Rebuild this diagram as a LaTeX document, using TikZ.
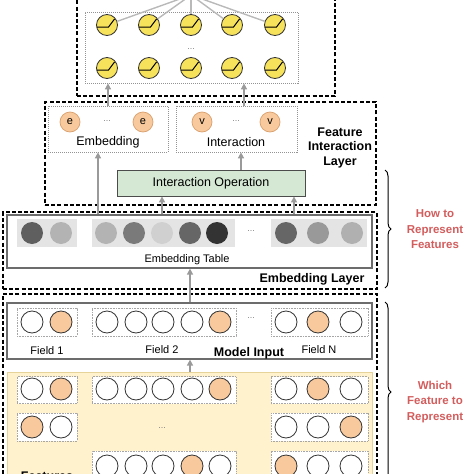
\documentclass[tikz,border=0pt]{standalone}
\usepackage{fontspec}
\setmainfont{Liberation Sans}
\usetikzlibrary{arrows.meta,decorations.pathreplacing,calc}
\definecolor{orangeF}{HTML}{F8C99C}
\definecolor{orangeD}{HTML}{D9A06E}
\definecolor{yellowF}{HTML}{F7E25C}
\definecolor{greenF}{HTML}{D5E8D4}
\definecolor{featF}{HTML}{FFF2CC}
\definecolor{featD}{HTML}{E6D39A}
\definecolor{redT}{HTML}{D35D5D}
\definecolor{arrG}{HTML}{9A9A9A}
\definecolor{panelG}{HTML}{E4E4E4}
\begin{document}
\begin{tikzpicture}[x=1pt,y=-1pt,
  layer/.style={draw=black, dash pattern=on 4pt off 2.2pt, line width=1.4pt, inner sep=0pt},
  dotbox/.style={draw=gray!85, dash pattern=on 1pt off 1pt, line width=0.7pt, inner sep=0pt},
  panel/.style={draw=gray!70, dash pattern=on 0.8pt off 0.8pt, line width=0.6pt, fill=white, inner sep=0pt},
  gpanel/.style={fill=panelG, inner sep=0pt, minimum height=28pt},
  solidbox/.style={draw=gray!85!black, line width=1.2pt, inner sep=0pt},
  circ/.style={circle, draw=black!80, line width=0.8pt, minimum size=22pt, inner sep=0pt},
  wc/.style={circ, fill=white},
  oc/.style={circ, fill=orangeF},
  ycirc/.style={circle, draw=black!80, line width=0.8pt, fill=yellowF, minimum size=21pt, inner sep=0pt},
  ecirc/.style={circle, draw=orangeD, line width=0.7pt, fill=orangeF, minimum size=20pt, inner sep=0pt, font=\fontsize{11}{12}\selectfont},
  gcirc/.style={circle, minimum size=22pt, inner sep=0pt},
  arr/.style={draw=arrG, line width=1.6pt, -{Triangle[length=6pt,width=6pt]}},
  fan/.style={draw=gray!55, line width=1.4pt},
  dots/.style={text=gray, font=\fontsize{9}{10}\selectfont},
  lbl/.style={font=\fontsize{12.5}{14}\selectfont},
  slbl/.style={font=\fontsize{11}{12}\selectfont},
  blbl/.style={font=\bfseries\fontsize{12.5}{14.5}\selectfont},
  rlbl/.style={text=redT, align=center, font=\bfseries\fontsize{11.5}{15.5}\selectfont},
  brc/.style={decorate, decoration={brace, amplitude=6pt}, draw=black, line width=1pt}
]
\useasboundingbox (0,0) rectangle (474,474);
\clip (0,0) rectangle (474,474);

% ---------- top layer ----------
\node[layer, minimum width=258pt, minimum height=106pt] (top) at (206,43) {};
\node[dotbox, minimum width=213pt, minimum height=71pt] (topin) at (191.5,47.5) {};
\coordinate (apex) at (191,-5);
\foreach \x [count=\i] in {107,149,191,232,275} {
  \node[ycirc] (ya\i) at (\x,25) {};
  \node[ycirc] (yb\i) at (\x,68) {};
  \draw[line width=1pt] ($(ya\i)+(-10.5,2)$) -- ++(12,0) -- ++(6,-8);
  \draw[line width=1pt] ($(yb\i)+(-10.5,2)$) -- ++(12,0) -- ++(6,-8);
}
\foreach \i in {1,2,3,4,5} \draw[fan] (ya\i) -- (apex);
\node[dots] (tdots) at (191,49) {...};

% ---------- feature interaction layer ----------
\node[layer, minimum width=331pt, minimum height=103pt] (fil) at (210.5,153.5) {};
\node[dotbox, minimum width=120pt, minimum height=46pt] (embbox) at (108,129) {};
\node[dotbox, minimum width=121pt, minimum height=46pt] (intbox) at (236.5,129) {};
\node[ecirc] (e1) at (70,122) {e};
\node[ecirc] (e2) at (143,122) {e};
\node[dots] (edots) at (107,121) {...};
\node[lbl] (embt) at (108,142) {Embedding};
\node[ecirc] (v1) at (202,122) {v};
\node[ecirc] (v2) at (270,122) {v};
\node[dots] (vdots) at (236,121) {...};
\node[lbl] (intt) at (236,142) {Interaction};
\node[blbl, align=center] (filt) at (340,147.5) {Feature\\Interaction\\Layer};
\node[draw=black!70, line width=0.9pt, fill=greenF, minimum width=188pt, minimum height=26pt, inner sep=0pt, lbl] (op) at (211,183) {Interaction Operation};

\coordinate (ax1) at (108,0);
\coordinate (ax2) at (244,0);
\draw[arr] (embbox.north -| ax1) -- (topin.south -| ax1);
\draw[arr] (intbox.north -| ax2) -- (topin.south -| ax2);
\coordinate (ax3) at (241,0);
\draw[arr] (op.north -| ax3) -- (intbox.south -| ax3);

% ---------- embedding layer ----------
\node[layer, minimum width=374pt, minimum height=77pt] (emlayer) at (190,250.5) {};
\node[solidbox, fill=white, minimum width=365pt, minimum height=53pt] (emtab) at (189.5,241.5) {};
\node[gpanel, minimum width=60pt] (gp1) at (47,233) {};
\node[gpanel, minimum width=143pt] (gp2) at (163.5,233) {};
\node[gpanel, minimum width=96pt] (gp3) at (319,233) {};
\foreach \x/\c in {32/5F5F5F,61/B3B3B3,106/B3B3B3,134/7A7A7A,162/D0D0D0,190/666666,217/333333,286/666666,318/999999,352/B0B0B0}{
  \definecolor{tmpc}{HTML}{\c}
  \node[gcirc, fill=tmpc] (g\x) at (\x,233) {};
}
\node[dots] (gdots) at (251,231) {...};
\node[slbl] (emtabt) at (187,260) {Embedding Table};
\node[blbl] (emlt) at (312,279) {Embedding Layer};

\coordinate (ax4) at (98,0);
\coordinate (ax5) at (162,0);
\coordinate (ax6) at (294,0);
\draw[arr] (emtab.north -| ax4) -- (embbox.south -| ax4);
\draw[arr] (emtab.north -| ax5) -- (op.south -| ax5);
\draw[arr] (emtab.north -| ax6) -- (op.south -| ax6);

% ---------- which-feature layer ----------
\node[layer, minimum width=374pt, minimum height=186pt] (wlayer) at (190,387) {};
\node[solidbox, fill=white, minimum width=365pt, minimum height=56pt] (minput) at (189.5,331) {};
\node[panel, minimum width=60pt, minimum height=28pt] (mp1) at (47,322) {};
\node[panel, minimum width=144pt, minimum height=28pt] (mp2) at (164,322) {};
\node[panel, minimum width=97pt, minimum height=28pt] (mp3) at (319.5,322) {};
\foreach \x/\s in {32/wc,61/oc,107/wc,136/wc,163/wc,192/wc,220/oc,286/wc,318/oc,351/wc}
  \node[\s] (m\x) at (\x,322) {};
\node[dots] (mdots) at (251,318) {...};
\node[slbl] (f1t) at (47,351) {Field 1};
\node[slbl] (f2t) at (162,350) {Field 2};
\node[slbl] (fnt) at (319,350) {Field N};
\node[blbl] (mit) at (249,353) {Model Input};

\coordinate (ax7) at (190,0);
\draw[arr] (minput.north -| ax7) -- (emtab.south -| ax7);

% features box
\node[draw=featD, line width=1pt, fill=featF, minimum width=365pt, minimum height=118pt, inner sep=0pt] (feat) at (189.5,431) {};
\draw[arr] (feat.north -| ax7) -- (minput.south -| ax7);
% row 1
\node[panel, minimum width=60pt, minimum height=27pt] (r1p1) at (47,390) {};
\node[panel, minimum width=144pt, minimum height=27pt] (r1p2) at (164,390) {};
\node[panel, minimum width=97pt, minimum height=27pt] (r1p3) at (319.5,390) {};
\foreach \x/\s in {32/wc,61/oc,107/wc,136/wc,163/wc,192/wc,220/oc,286/wc,318/oc,351/wc}
  \node[\s] (ra\x) at (\x,389) {};
% row 2
\node[panel, minimum width=60pt, minimum height=28pt] (r2p1) at (47,427) {};
\node[panel, minimum width=97pt, minimum height=28pt] (r2p3) at (319.5,427) {};
\foreach \x/\s in {32/oc,61/wc,286/wc,318/wc,351/oc}
  \node[\s] (rb\x) at (\x,427) {};
\node[dots] (fdots) at (162,428) {...};
% row 3
\node[panel, minimum width=144pt, minimum height=40pt] (r3p2) at (164,471) {};
\node[panel, minimum width=97pt, minimum height=40pt] (r3p3) at (319.5,471) {};
\foreach \x/\s in {107/wc,136/wc,163/wc,192/oc,220/wc,286/oc,318/wc,351/wc}
  \node[\s] (rc\x) at (\x,466) {};
\node[blbl] (featt) at (47,476) {Features};

% ---------- braces and side labels ----------
\draw[brc] (385,170) -- (385,288);
\draw[brc] (385,302) -- (385,482);
\node[rlbl] (howt) at (435,229.5) {How to\\Represent\\Features};
\node[rlbl] (whicht) at (435,402) {Which\\Feature to\\Represent};
\end{tikzpicture}
\end{document}
